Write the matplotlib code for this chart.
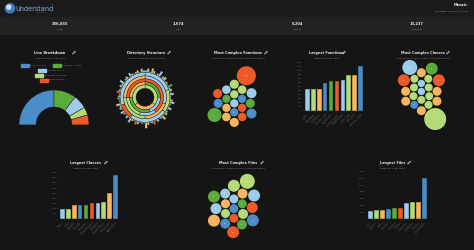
# Understand dashboard - dark theme recreation
import numpy as np
import matplotlib.pyplot as plt
from matplotlib.patches import Rectangle, Circle

W, H = 474, 250
BG = '#151515'
HEAD = '#1b1b1b'
STRIP = '#222222'

# ---------------- palette ----------------
LBLUE = '#9ccbec'
BLUE = '#4a8dc8'
LGREEN = '#b3dc78'
GREEN = '#5aab3c'
LORANGE = '#f8b55e'
RED = '#ee5a27'
GRAY = '#bdbdbd'
BAR_COLORS = [LBLUE, LGREEN, LORANGE, BLUE, GREEN, RED, LBLUE, LGREEN, LORANGE, BLUE]

# ---------------- data ----------------
stat_values = ['336,855', '1,674', '5,204', '13,237']
stat_labels = ['Lines', 'Files', 'Classes', 'Functions']

line_types = ['Code', 'Comment', 'Inactive', 'Preprocessor', 'Blank']
line_counts = [168428, 69392, 43117, 24254, 31664]
line_colors = [BLUE, GREEN, LBLUE, LGREEN, RED]

# directory sunburst rings (inner -> outer)
ring1_vals = [35, 30, 35]
ring1_cols = [LGREEN, LORANGE, LGREEN]
ring2_vals = [25, 20, 30, 25]
ring2_cols = [GREEN, LBLUE, GREEN, LORANGE]
ring3_vals = [40, 15, 20, 25]
ring3_cols = [RED, LBLUE, LGREEN, RED]
ring4_vals = [30, 20, 25, 25]
ring4_cols = [LBLUE, LORANGE, LGREEN, LORANGE]
ring5_vals = [20, 15, 25, 10, 30]
ring5_cols = [LBLUE, LGREEN, LBLUE, RED, LBLUE]
fringe_vals = [2, 4, 1, 5, 3, 1, 2, 6, 1, 3, 4, 1, 2, 1, 5, 2, 3, 2, 4, 1,
               1, 3, 5, 2, 1, 4, 1, 2, 3, 1, 5, 2, 1, 3, 1, 4, 2, 1, 3, 6,
               1, 2, 1, 3, 4, 1, 2, 5, 1, 3, 1, 2, 4, 1, 3, 2, 5, 1, 1, 3,
               2, 1, 4, 2, 1, 3, 2, 5, 1, 2, 3, 1, 4, 2, 1, 2, 3, 1, 4, 2]
fringe_cols = [LBLUE, LGREEN, GRAY, LORANGE, LBLUE, GREEN, GRAY, LBLUE, RED]

# most complex functions (bubble sizes = cyclomatic complexity)
cfunc_values = [33, 33, 33, 33, 33, 33, 33, 36, 36, 36, 36, 40, 40, 40, 40, 40, 48, 48, 95, 175]
cfunc_colors = [LBLUE, LGREEN, BLUE, GREEN, LORANGE, RED, BLUE, LBLUE, LGREEN, LORANGE,
                RED, BLUE, GREEN, LGREEN, LORANGE, RED, LBLUE, BLUE, GREEN, RED]

# most complex classes
ccls_values = [26, 26, 31, 31, 31, 31, 31, 31, 31, 31, 31, 39, 39, 39, 39, 39, 39, 69, 69, 69, 108, 233]
ccls_colors = [LBLUE, LBLUE, LGREEN, LGREEN, LGREEN, LGREEN, LGREEN, LGREEN, LGREEN, LGREEN, BLUE,
               LORANGE, LORANGE, LORANGE, LORANGE, LORANGE, LORANGE, RED, RED, GREEN, LBLUE, LGREEN]

# most complex files
cfile_values = [39, 39, 39, 39, 39, 39, 48, 48, 48, 48, 48, 58, 58, 69, 69, 69, 69, 69, 69, 108]
cfile_colors = [BLUE, RED, LBLUE, LGREEN, LORANGE, GREEN, LGREEN, BLUE, LORANGE, LBLUE, GREEN,
                LBLUE, RED, LGREEN, RED, BLUE, GREEN, LORANGE, LBLUE, LGREEN]

# largest functions / classes / files (total lines)
func_names = ['yylex', 'ParseArgs', 'initTables', 'Decode::run', 'buildIndex',
              'render_frame', 'ReadHeader', 'main_loop', 'eval_expr', 'process_input']
func_lines = [535, 535, 535, 682, 731, 731, 756, 879, 879, 1100]
class_names = ['Parser', 'Lexer', 'FileTable', 'Decoder', 'Renderer',
               'StreamReader', 'Compiler', 'SymbolTable', 'Interpreter', 'Application']
class_lines = [940, 970, 1330, 1330, 1330, 1525, 1580, 1650, 2495, 4270]
file_names = ['util.c', 'parser.c', 'lexer.c', 'decode.c', 'render.c',
              'tables.c', 'compile.c', 'symbols.c', 'interp.c', 'generated.c']
file_lines = [2410, 2715, 2715, 3015, 3320, 3320, 4735, 4915, 5130, 12280]

# ---------------- figure ----------------
fig = plt.figure(figsize=(W / 100, H / 100), dpi=100, facecolor=BG)
bg = fig.add_axes([0, 0, 1, 1])
bg.set_xlim(0, W)
bg.set_ylim(H, 0)
bg.axis('off')
bg.add_patch(Rectangle((0, 0), W, 17.3, color=HEAD, zorder=0))
bg.add_patch(Rectangle((0, 17.3), W, 17, color=STRIP, zorder=0))


def px_axes(x0, y0, x1, y1, **kw):
    return fig.add_axes([x0 / W, 1 - y1 / H, (x1 - x0) / W, (y1 - y0) / H], **kw)


# header
bg.add_patch(Circle((10, 8.3), 4.6, color='#3f79b8', zorder=2))
bg.add_patch(Circle((8.8, 7.2), 2.0, color='#cfe0f3', zorder=3))
bg.text(15, 8.6, 'Understand', fontsize=4.7, color='#8fb3dc', va='center', ha='left')
bg.text(50.5, 4.6, '\u2122', fontsize=1.8, color='#8fb3dc', va='center')
bg.text(37, 12.3, 'by SciTools', fontsize=1.1, color='#6c86a6', va='center')
bg.text(468, 5.2, 'Mosaic', fontsize=2.6, color='#e8e8e8', ha='right', va='center', weight='bold')
bg.text(468, 10.8, 'Generated: 1/1/2021 1:27 PM', fontsize=1.6, color='#9a9a9a', ha='right', va='center')

stat_x = [60, 178, 297, 417]
for x, v, l in zip(stat_x, stat_values, stat_labels):
    bg.text(x, 23.6, v, fontsize=2.6, color='#e8e8e8', ha='center', va='center', weight='bold')
    bg.text(x, 29.2, l, fontsize=1.7, color='#9a9a9a', ha='center', va='center')


def expand_icon(x, y):
    # small diagonal "expand" arrow
    bg.annotate('', xy=(x + 1.7, y - 1.7), xytext=(x - 1.7, y + 1.7),
                arrowprops=dict(arrowstyle='<->', lw=0.4, color='#d0d0d0',
                                mutation_scale=2.2, shrinkA=0, shrinkB=0))


def title(x, y, t, sub, icon_x):
    bg.text(x, y, t, fontsize=2.5, color='#e6e6e6', ha='center', va='center', weight='bold')
    bg.text(x, y + 6, sub, fontsize=1.75, color='#8a8a8a', ha='center', va='center')
    expand_icon(icon_x, y)


title(50, 52.7, 'Line Breakdown', 'Categorized by Line Type', 74)
title(146.5, 52.7, 'Directory Structure', 'Segment Size by Lines of Code', 169)
title(238.5, 52.7, 'Most Complex Functions', 'Complexity by the McCabe Cyclomatic Metric', 266)
title(327, 52.7, 'Largest Functions', 'Height by Total Lines', 344)
title(423, 52.7, 'Most Complex Classes', 'Complexity by the McCabe Cyclomatic Metric', 448)
title(85.5, 162.7, 'Largest Classes', 'Height by Total Lines', 106)
title(238.5, 162.7, 'Most Complex Files', 'Complexity by the McCabe Cyclomatic Metric', 262)
title(392.5, 162.7, 'Largest Files', 'Height by Total Lines', 409)

# ---------------- line breakdown (half donut) ----------------
legend_pos = [(21, 65), (53, 65), (38, 70), (35, 75), (40, 80)]
for (lx, ly), name, cnt, col in zip(legend_pos, line_types, line_counts, line_colors):
    bg.add_patch(Rectangle((lx, ly - 1.5), 8, 3, color=col))
    bg.text(lx + 9.5, ly, f'{name}: {cnt:,}', fontsize=1.5, color='#8a8a8a', va='center')

ax = px_axes(14, 85, 94, 165)
ax.pie(line_counts + [sum(line_counts)], colors=line_colors + ['none'], startangle=180,
       counterclock=False, radius=35, wedgeprops=dict(width=17, edgecolor=BG, linewidth=0.3))
ax.set_xlim(-40, 40)
ax.set_ylim(-40, 40)
ax.axis('off')

# ---------------- directory structure (sunburst) ----------------
ax = px_axes(112, 64.3, 178, 130.3, projection='polar')
ax.set_theta_zero_location('N')
ax.set_theta_direction(-1)
rings = [(ring1_vals, ring1_cols, 9, 12.5), (ring2_vals, ring2_cols, 12.5, 15.5),
         (ring3_vals, ring3_cols, 15.5, 18.5), (ring4_vals, ring4_cols, 18.5, 21.5),
         (ring5_vals, ring5_cols, 21.5, 25)]
for vals, cols, r0, r1 in rings:
    v = np.array(vals, float)
    w = v / v.sum() * 2 * np.pi
    left = np.concatenate([[0], np.cumsum(w)[:-1]])
    ax.bar(left, r1 - r0, width=w, bottom=r0, align='edge', color=cols, edgecolor=BG, linewidth=0.25)
n = len(fringe_vals)
th = np.arange(n) * 2 * np.pi / n
fcols = [fringe_cols[i % len(fringe_cols)] for i in range(n)]
ax.bar(th, fringe_vals, width=2 * np.pi / n, bottom=25, align='edge', color=fcols,
       edgecolor=BG, linewidth=0.15)
ax.set_ylim(0, 33)
ax.axis('off')


# ---------------- bubble packs ----------------
def pack(values, k=0.72, gap=0.7):
    placed = []
    for v in values:
        r = k * np.sqrt(v)
        if not placed:
            placed.append((0.0, 0.0, r))
            continue
        cands = []
        for (x, y, rr) in placed:
            d = rr + r + gap
            for a in np.linspace(0, 2 * np.pi, 24, endpoint=False):
                cands.append((x + d * np.cos(a), y + d * np.sin(a)))
        for i in range(len(placed)):
            for j in range(i + 1, len(placed)):
                x1, y1, r1 = placed[i]
                x2, y2, r2 = placed[j]
                d1, d2 = r1 + r + gap, r2 + r + gap
                dx, dy = x2 - x1, y2 - y1
                D = np.hypot(dx, dy)
                if D == 0 or D > d1 + d2 or D < abs(d1 - d2):
                    continue
                a = (d1 ** 2 - d2 ** 2 + D ** 2) / (2 * D)
                h = np.sqrt(max(d1 ** 2 - a ** 2, 0))
                mx, my = x1 + a * dx / D, y1 + a * dy / D
                cands.append((mx - h * dy / D, my + h * dx / D))
                cands.append((mx + h * dy / D, my - h * dx / D))
        best = None
        for cx, cy in cands:
            if all(np.hypot(cx - x, cy - y) >= rr + r + gap - 1e-6 for x, y, rr in placed):
                score = 1.3 * cx ** 2 + cy ** 2
                if best is None or score < best[0]:
                    best = (score, cx, cy)
        placed.append((best[1], best[2], r))
    return np.array(placed)


def bubble_panel(cx, cy, values, colors, flipx=1, flipy=1):
    p = pack(values)
    p[:, 0] *= flipx
    p[:, 1] *= flipy
    x0, x1 = (p[:, 0] - p[:, 2]).min(), (p[:, 0] + p[:, 2]).max()
    y0, y1 = (p[:, 1] - p[:, 2]).min(), (p[:, 1] + p[:, 2]).max()
    p[:, 0] -= (x0 + x1) / 2
    p[:, 1] -= (y0 + y1) / 2
    ax = px_axes(cx - 45, cy - 45, cx + 45, cy + 45)
    ax.set_xlim(-45, 45)
    ax.set_ylim(-45, 45)
    ax.axis('off')
    for (x, y, r), c, v in zip(p, colors, values):
        ax.add_patch(Circle((x, y), r, color=c, lw=0))
        ax.text(x, y, str(v), fontsize=1.3, color='white', ha='center', va='center')


bubble_panel(232, 96.6, cfunc_values, cfunc_colors, flipx=-1)
bubble_panel(422, 95, ccls_values, ccls_colors)
bubble_panel(234, 206, cfile_values, cfile_colors, flipx=-1, flipy=-1)


# ---------------- bar charts ----------------
def bar_panel(x0, x1, y0, y1, names, values, ymax, step):
    ax = px_axes(x0, y0, x1, y1)
    ax.patch.set_alpha(0)
    ax.bar(range(len(values)), values, width=0.8, color=BAR_COLORS, edgecolor='#0c0c0c', linewidth=0.3)
    ax.set_xlim(-0.55, len(values) - 0.45)
    ax.set_ylim(0, ymax)
    ticks = np.arange(0, ymax + 1, step)
    ax.set_yticks(ticks)
    ax.set_yticklabels([str(t) for t in ticks])
    ax.tick_params(axis='y', length=0, pad=1.2, labelsize=1.6, labelcolor='#6a6a6a')
    ax.set_xticks(range(len(values)))
    ax.set_xticklabels(names, rotation=45, ha='right', rotation_mode='anchor', fontsize=1.8, color='#555555')
    ax.tick_params(axis='x', length=0, pad=1)
    for s in ax.spines.values():
        s.set_visible(False)


bar_panel(304, 364, 62, 110.7, func_names, func_lines, 1200, 100)
bar_panel(59, 119, 172.7, 219, class_names, class_lines, 4500, 500)
bar_panel(367, 428, 171.7, 219, file_names, file_lines, 14000, 2000)

fig.savefig('out.png', dpi=100, facecolor=BG)
